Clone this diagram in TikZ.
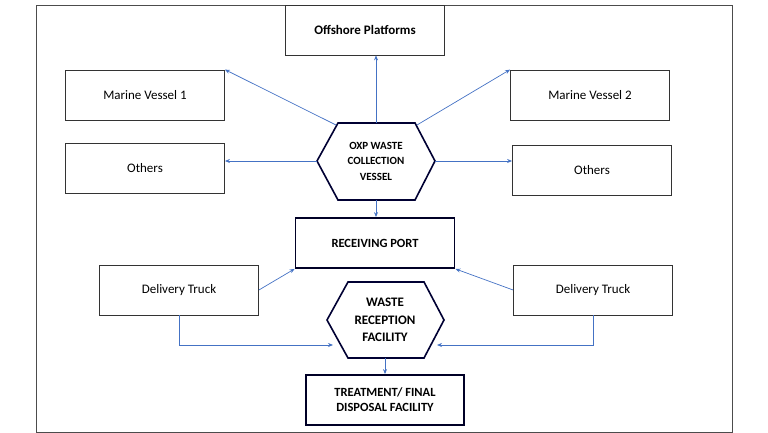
\documentclass[tikz,border=0pt]{standalone}
\usepackage{fontspec}
\setmainfont{Carlito}
\usetikzlibrary{arrows.meta}
\definecolor{linkblue}{RGB}{68,114,196}
\begin{document}
\begin{tikzpicture}[x=1pt,y=-1pt]
	\tikzstyle{box}=[draw=black!80,line width=0.8pt,minimum width=159pt,minimum height=50pt,font=\fontsize{13}{15}\selectfont,align=center]
	\tikzstyle{mainbox}=[box,draw=black!85!blue,line width=1.8pt,font=\bfseries\fontsize{12.5}{15}\selectfont]
	\tikzstyle{hex}=[draw=black!80!blue,line width=1.6pt]
	\tikzstyle{link}=[draw=linkblue,line width=0.7pt,-{Stealth[length=5pt,width=4pt]}]
	\useasboundingbox (0,0) rectangle (768,433);
	\draw [black!70,line width=0.8pt] (36,5) rectangle (732,432);
	% boxes
	\node [box] (offshore) at (365,30) {\bfseries Offshore Platforms};
	\node [box] (vessel1) at (145,95) {Marine Vessel 1};
	\node [box] (vessel2) at (590,95) {Marine Vessel 2};
	\node [box] (othersL) at (145,168) {Others};
	\node [box] (othersR) at (592,170) {Others};
	\node [mainbox] (port) at (375,243) {RECEIVING PORT};
	\node [box] (truckL) at (179,290) {Delivery Truck};
	\node [box] (truckR) at (593,290) {Delivery Truck};
	\node [mainbox,minimum width=158pt] (treat) at (385,400) {TREATMENT/ FINAL\\DISPOSAL FACILITY};
	% hexagons
	\draw [hex] (317,161) -- (338,123) -- (415,123) -- (435,161) -- (415,200) -- (338,200) -- cycle;
	\node [font=\bfseries\fontsize{11}{15.5}\selectfont,align=center] (oxp) at (376,161) {OXP WASTE\\COLLECTION\\VESSEL};
	\draw [hex] (327,320) -- (348,282) -- (424,282) -- (444,320) -- (424,358) -- (348,358) -- cycle;
	\node [font=\bfseries\fontsize{13}{17.5}\selectfont,align=center] (wrf) at (385,320) {WASTE\\RECEPTION\\FACILITY};
	\coordinate (oxpTL) at (336,125);
	\coordinate (oxpTR) at (417,125);
	\coordinate (oxpL) at (317,161);
	\coordinate (oxpR) at (435,161);
	\coordinate (wrfL) at (333,345);
	\coordinate (wrfR) at (437,345);
	% connectors
	\draw [link] (oxp.north |- 0,123) -- (offshore.south -| oxp.north);
	\draw [link] (oxpTL) -- (vessel1.north east);
	\draw [link] (oxpTR) -- (vessel2.north west);
	\draw [link] (oxpL) -- (othersL.east |- oxpL);
	\draw [link] (oxpR) -- (othersR.west |- oxpR);
	\draw [link] (376,200) -- (port.north -| 376,0);
	\draw [link] (truckL.east) -- (port.south west);
	\draw [link] (truckR.west) -- (port.south east);
	\draw [link] (truckL.south) |- (wrfL);
	\draw [link] (truckR.south) |- (wrfR);
	\draw [link] (385,358) -- (treat.north);
\end{tikzpicture}
\end{document}
